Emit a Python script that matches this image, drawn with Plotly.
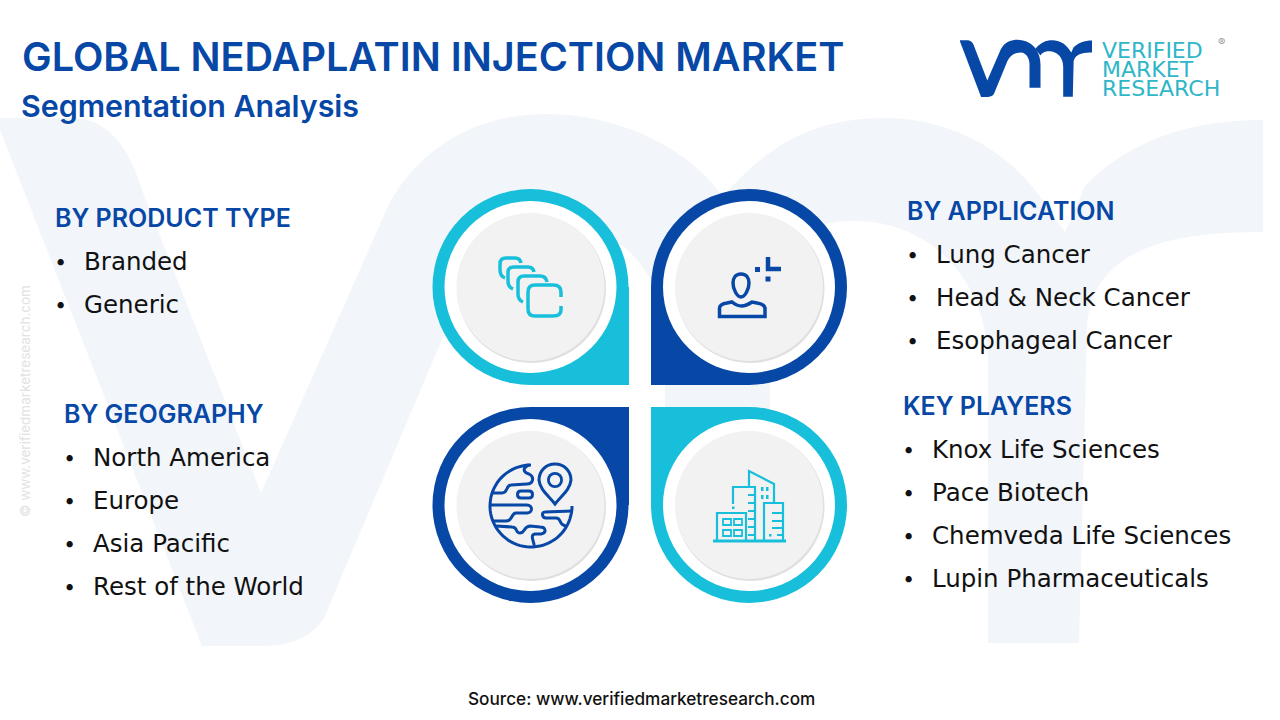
import re
import numpy as np
import plotly.graph_objects as go

BLUE = "#0747a6"
CYAN = "#18bfdb"
LOGO_TEXT = "#2fb6c9"
PALE = "#f2f5fa"
FONT = "Inter"
BODY_FONT = "DejaVu Sans"

title = "GLOBAL NEDAPLATIN INJECTION MARKET"
subtitle = "Segmentation Analysis"
source = "Source: www.verifiedmarketresearch.com"
side_note = "© www.verifiedmarketresearch.com"
logo_words = ["VERIFIED", "MARKET", "RESEARCH"]

product_head = "BY PRODUCT TYPE"
product_items = ["Branded", "Generic"]
geo_head = "BY GEOGRAPHY"
geo_items = ["North America", "Europe", "Asia Pacific", "Rest of the World"]
app_head = "BY APPLICATION"
app_items = ["Lung Cancer", "Head & Neck Cancer", "Esophageal Cancer"]
players_head = "KEY PLAYERS"
players_items = ["Knox Life Sciences", "Pace Biotech", "Chemveda Life Sciences", "Lupin Pharmaceuticals"]

# outline of the big pale logo behind everything, also reused small for the logo
V_AND_HUMP = ("M0,118 L75,118 C110,120 130,150 142,190 L261,493 L389,204 C430,130 500,114 546,114 "
              "C620,114 700,150 735,215 C760,260 770,300 770,350 L770,560 L665,560 L665,340 "
              "C665,280 625,232 585,232 C510,232 470,270 443,337 L324,618 C310,640 285,646 263,646 "
              "L202,646 L0,130 Z")
HUMP_AND_R = ("M720,200 C770,140 820,118 885,118 C950,118 1010,150 1045,204 L1065,232 L1085,186 "
              "C1130,140 1190,120 1263,120 L1263,232 C1190,232 1090,240 1087,330 L1079,643 L988,643 "
              "L988,364 C988,280 930,221 855,221 C810,221 780,240 770,260 Z")


def scale_path(path, ox, oy, sx, sy):
    def one(m):
        return f"{ox + float(m.group(1)) * sx:.1f},{oy + (float(m.group(2)) - 116) * sy:.1f}"
    return re.sub(r"([\d.]+),([\d.]+)", one, path)


def arc_path(cx, cy, r, a0, a1):
    angles = np.radians(np.linspace(a0, a1, 60))
    pts = [f"{cx + r * np.cos(a):.1f},{cy + r * np.sin(a):.1f}" for a in angles]
    return "M" + " L".join(pts)


shapes = []


def fill_path(path, color):
    shapes.append(dict(type="path", path=path, fillcolor=color, line=dict(width=0)))


def line_path(path, color, width=3):
    shapes.append(dict(type="path", path=path, line=dict(color=color, width=width)))


def disk(cx, cy, r, color):
    shapes.append(dict(type="circle", x0=cx - r, x1=cx + r, y0=cy - r, y1=cy + r,
                       fillcolor=color, line=dict(width=0)))


def box(x0, y0, x1, y1, color, outline=False, width=2.2):
    if outline:
        shapes.append(dict(type="rect", x0=x0, x1=x1, y0=y0, y1=y1, line=dict(color=color, width=width)))
    else:
        shapes.append(dict(type="rect", x0=x0, x1=x1, y0=y0, y1=y1, fillcolor=color, line=dict(width=0)))


def drop(cx, cy, corner_x, corner_y, color):
    disk(cx, cy, 98, color)
    box(min(cx, corner_x), min(cy, corner_y), max(cx, corner_x), max(cy, corner_y), color)
    disk(cx, cy, 86, "#ffffff")
    disk(cx - 1.5, cy - 1.5, 75, "#ffffff")
    disk(cx + 1, cy + 1.5, 74.5, "#e0e0e0")
    disk(cx, cy, 74, "#f2f2f2")


# watermark
fill_path(V_AND_HUMP, PALE)
fill_path(HUMP_AND_R, PALE)

# top logo
fill_path(scale_path(V_AND_HUMP, 960, 40, 0.1045, 0.1075), BLUE)
fill_path(scale_path(HUMP_AND_R, 960, 40, 0.1045, 0.1075), BLUE)

# the four drops
drop(530.5, 287, 629, 385, CYAN)
drop(749, 287, 651, 385, BLUE)
drop(530.5, 505, 629, 407, BLUE)
drop(749, 505, 651, 407, CYAN)

# icon: stacked cards
line_path("M505,278 Q500,276 500,270 L500,264 Q500,258 506,258 L515,258 Q520,258 521,263", CYAN, 3.5)
line_path("M513,289 Q508,287 508,281 L508,272 Q508,267 514,267 L528,267 Q533,267 534,272", CYAN, 3.5)
line_path("M523,302 Q518,300 518,294 L518,282 Q518,276 524,276 L540,276 Q546,276 547,282", CYAN, 3.5)
line_path("M561,297 L561,292 Q561,285 553,285 L535,285 Q528,285 528,292 L528,309 Q528,316 535,316 "
          "L553,316 Q561,316 561,310 L561,306", CYAN, 3.5)

# icon: person
line_path("M741,274 C735,274 733,279 733,283 C733,289 737,297 741,297 C745,297 749,289 749,283 "
          "C749,279 747,274 741,274 Z", BLUE, 3.5)
line_path("M719.5,316.5 L765,316.5 L765,308 Q764,304 757,303 L752,302 Q746,306 741.5,306 Q737,306 732,302 "
          "L727,303 Q720,304 719.5,308 Z", BLUE, 3.5)
line_path("M768,257 L768,269 L781,269", BLUE, 4.5)
box(755, 267, 760, 272, BLUE)
box(765.5, 276.5, 770.5, 281.5, BLUE)

# icon: globe with pin
line_path(arc_path(531, 506, 41, -90, -360), BLUE)
line_path("M555,504 C548,495 540,490 539,480 C539,471 546,464 555,464 C564,464 571,471 571,480 "
          "C570,490 562,495 555,504 Z", BLUE)
disk(555, 480, 8, BLUE)
disk(555, 480, 5.2, "#f2f2f2")
line_path("M529,465 C522,468 523,472 529,474 C535,477 533,484 527,484 L511,485 C506,485 508,493 502,493 L491,493", BLUE)
line_path("M521,491 L529,491 Q532.5,491 532.5,494.5 Q532.5,498 529,498 L521,498 Q517.5,498 517.5,494.5 Q517.5,491 521,491 Z", BLUE)
line_path("M490,505 L527,505 C533,505 533,513 527,513 L516,513 C511,513 513,521 506,521 L492,521", BLUE)
line_path("M496,526 L512,527 C518,527 515,533 520,533 C525,533 523,527 530,526 L540,527 C546,527 547,533 541,534 "
          "L535,534 C529,535 535,543 534,546", BLUE)
line_path("M572,511 L545,512 C541,512 542,518 546,518 L556,518 C562,518 558,525 566,526", BLUE)

# icon: buildings
line_path("M713,541 L786,541", CYAN)
box(717, 513, 746, 541, CYAN, outline=True)
for wx in [723, 734]:
    for wy in [519, 530]:
        box(wx, wy, wx + 8, wy + 6, CYAN, outline=True, width=1.8)
line_path("M733,504 L733,487 L755,487 L755,541", CYAN, 2.2)
box(732, 506.5, 734.5, 509, CYAN)
for ty in [495, 503, 511, 519, 527, 535]:
    line_path(f"M748,{ty} L755,{ty}", CYAN, 2)
line_path("M749,487 L749,471 L774,484 L774,503", CYAN, 2.2)
for wx in [761, 766]:
    for wy in [487, 495]:
        box(wx, wy, wx + 2.5, wy + 4, CYAN)
line_path("M764,541 L764,503 L783,503 L783,541", CYAN, 2.2)
for ty in [513, 521, 528]:
    line_path(f"M772,{ty} L783,{ty}", CYAN, 2)
box(769, 534, 771.5, 536.5, CYAN)
box(777, 534, 783, 536, CYAN)

notes = []


def put(text, x, y, size, color, weight=400, family=FONT, angle=0, anchor="left"):
    notes.append(dict(text=text, x=x, y=y, xref="x", yref="y", showarrow=False, xanchor=anchor,
                      yanchor="middle", textangle=angle, borderpad=0,
                      font=dict(family=family, size=size, color=color, weight=weight)))


put(title, 20.5, 57, 39.6, BLUE, 600)
put(subtitle, 19.5, 106, 30.4, BLUE, 600)
put(source, 467, 698, 17.2, "#111111", 500)
put(side_note, 25, 401, 13.5, "#e2e2e2", angle=-90, anchor="center")

for word, wy, wsize in zip(logo_words, [50, 69.5, 88], [22, 22, 22]):
    put(word, 1101, wy, wsize, LOGO_TEXT, 400, "DejaVu Sans")
put("®", 1217, 42, 11, "#9a9a9a")

for head, items, hx, hy, first_y in [
    (product_head, product_items, 55, 217, 261),
    (geo_head, geo_items, 64, 413, 457),
    (app_head, app_items, 907, 210, 254),
    (players_head, players_items, 903, 405, 449),
]:
    put(head, hx - 1.5, hy + 1, 25, BLUE, 600)
    for i, item in enumerate(items):
        yy = first_y + 43 * i
        put("•", hx - 1, yy, 20, "#111111")
        put(item, hx + 28, yy + 0.5, 24.5, "#111111", family=BODY_FONT)

fig = go.Figure()
fig.update_layout(
    width=1280, height=720, margin=dict(l=0, r=0, t=0, b=0),
    paper_bgcolor="#ffffff", plot_bgcolor="#ffffff", showlegend=False,
    xaxis=dict(range=[0, 1280], visible=False),
    yaxis=dict(range=[720, 0], visible=False),
    shapes=shapes, annotations=notes,
)
fig.write_html("out.html", config=dict(displayModeBar=False), post_script="document.body.style.margin='0';")
